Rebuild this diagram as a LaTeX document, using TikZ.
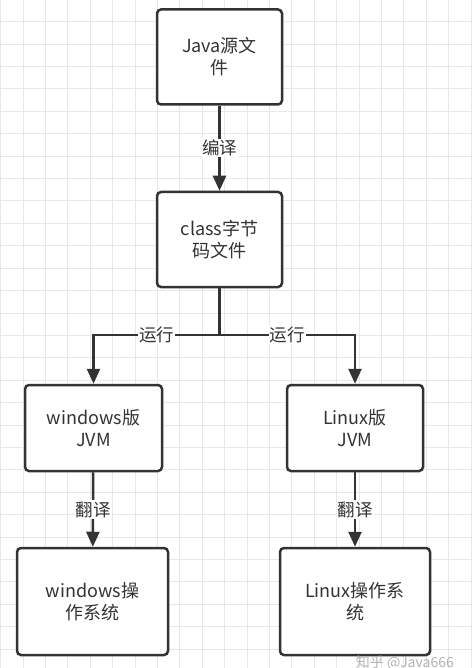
\documentclass[tikz,border=0pt]{standalone}
\usepackage{fontspec}
\setmainfont{Noto Sans CJK SC}
\usetikzlibrary{arrows.meta, positioning}

\definecolor{ink}{HTML}{333333}
\definecolor{gridline}{HTML}{E8E8E8}

\begin{document}
\begin{tikzpicture}[x=1pt, y=-1pt,
    box/.style={draw=ink, line width=2.5pt, rounded corners=4pt, fill=white,
        text=ink, align=center, font=\fontsize{18}{22}\selectfont},
    flow/.style={draw=ink, line width=2.5pt, -{Triangle[length=15pt, width=13pt]}},
    tag/.style={fill=white, text=ink, inner sep=1pt, font=\fontsize{17.5}{20}\selectfont}]
    \useasboundingbox (0,0) rectangle (472,668);
    \fill[white] (0,0) rectangle (472,668);

    % Grid paper
    \foreach \i in {0,...,21} {
        \draw[gridline, line width=0.8pt] (0.5+\i*22.4,0) -- (0.5+\i*22.4,668);
    }
    \foreach \j in {0,...,30} {
        \draw[gridline, line width=0.8pt] (0,-0.7+\j*22.4) -- (472,-0.7+\j*22.4);
    }

    % Source and bytecode
    \node[box, minimum width=125pt, minimum height=95pt] (java) at (219.5,57) {Java源文\\件};
    \node[box, minimum width=125pt, minimum height=95pt] (bytecode) at (219.5,239.5) {class字节\\码文件};

    % JVMs
    \node[box, minimum width=137pt, minimum height=86pt] (winjvm) at (93.5,428) {windows版\\JVM};
    \node[box, minimum width=136pt, minimum height=86pt] (linjvm) at (355,428) {Linux版\\JVM};

    % Operating systems
    \node[box, minimum width=151pt, minimum height=107pt] (winos) at (92.5,601.5) {windows操\\作系统};
    \node[box, minimum width=150pt, minimum height=107pt] (linos) at (355,601.5) {Linux操作系\\统};

    % Connectors
    \draw[flow] (java) -- node[tag] {编译} (bytecode);

    \coordinate (split) at (219.5,335);
    \draw[draw=ink, line width=2.5pt] (bytecode) -- (split);
    \draw[flow] (split) -| node[tag, pos=0.25] {运行} (winjvm);
    \draw[flow] (split) -| node[tag, pos=0.25] {运行} (linjvm);

    \draw[flow] (winjvm) -- node[tag] {翻译} (winos);
    \draw[flow] (linjvm) -- node[tag] {翻译} (linos);

    % Watermark
    \node[text=black!30, anchor=south east, inner sep=0pt, font=\fontsize{14}{14}\selectfont] (mark) at (454,670) {知乎 @Java666};
\end{tikzpicture}
\end{document}
